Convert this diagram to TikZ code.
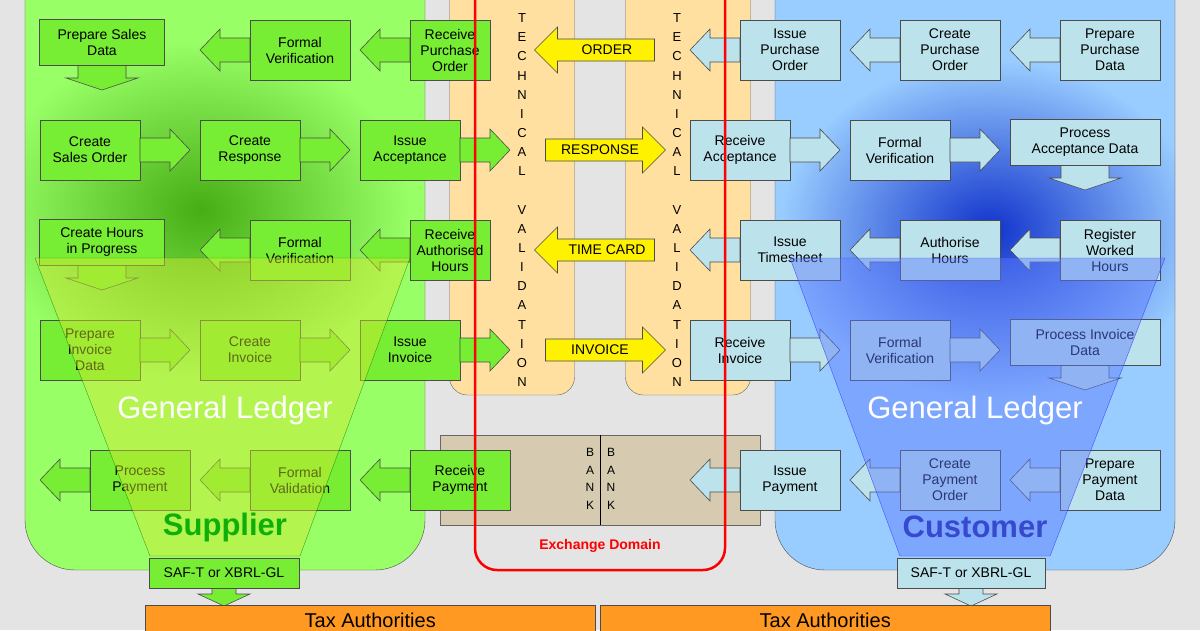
\documentclass[tikz,border=0pt]{standalone}
\usepackage{fontspec}
\setmainfont{Liberation Sans}
\usetikzlibrary{shapes.arrows,shapes.geometric}
\definecolor{bg}{HTML}{E4E4E4}
\definecolor{lgreen}{HTML}{99FF66}
\definecolor{dgreen}{HTML}{339900}
\definecolor{boxg}{HTML}{77EE33}
\definecolor{lblue}{HTML}{99CCFF}
\definecolor{dblue}{HTML}{1133CC}
\definecolor{boxb}{HTML}{BCE3EC}
\definecolor{tv}{HTML}{FFE0A0}
\definecolor{bank}{HTML}{D6CBB0}
\definecolor{orng}{HTML}{FF9922}
\tikzset{
 x=1pt,y=-1pt,
 box/.style={draw=black!70,line width=0.6pt,minimum width=100pt,minimum height=60pt,align=center,font=\fontsize{14}{16}\selectfont,inner sep=1pt},
 gbox/.style={box,fill=boxg},
 bbox/.style={box,fill=boxb},
 arrline/.style={draw=black!70,line width=0.6pt},
 ya/.style={single arrow,draw=black!70,fill=yellow,line width=0.6pt,minimum height=120pt,minimum width=46pt,single arrow head extend=9pt,font=\fontsize{14}{16}\selectfont,inner sep=3pt},
 lt/.style={font=\fontsize{14}{16}\selectfont,inner sep=0pt},
}
\newcommand\hblk[4]{%
 \pgfmathsetmacro\hd{(#3>#2)?-20:20}%
 \draw[arrline,fill=#1] (#2,#4-12) -- (#3+\hd,#4-12) -- (#3+\hd,#4-21) -- (#3,#4) -- (#3+\hd,#4+21) -- (#3+\hd,#4+12) -- (#2,#4+12) -- cycle;}
\newcommand\vblk[6]{%
 \draw[arrline,fill=#1] (#2-#5,#3) -- (#2+#5,#3) -- (#2+#5,#4-12) -- (#2+#6,#4-12) -- (#2,#4) -- (#2-#6,#4-12) -- (#2-#5,#4-12) -- cycle;}
\begin{document}
\begin{tikzpicture}
\useasboundingbox (0,0) rectangle (1200,630);
\fill[bg] (0,0) rectangle (1200,630);
\begin{scope}
\clip[rounded corners=50pt] (25,-60) rectangle (425,570);
\fill[lgreen] (0,-60) rectangle (450,600);
\shade[inner color=dgreen!80!lgreen,outer color=lgreen] (200,210) ellipse (210pt and 170pt);
\end{scope}
\begin{scope}
\clip[rounded corners=50pt] (775,-60) rectangle (1175,570);
\fill[lblue] (750,-60) rectangle (1200,600);
\shade[inner color=dblue,outer color=lblue] (990,230) ellipse (210pt and 170pt);
\end{scope}
\draw[black!70,rounded corners=50pt] (25,-60) rectangle (425,570);
\draw[black!70,rounded corners=50pt] (775,-60) rectangle (1175,570);
\node[draw=black!60,fill=tv,rounded corners=18pt,minimum width=125pt,minimum height=430pt] (tvl) at (512,180) {};
\node[draw=black!60,fill=tv,rounded corners=18pt,minimum width=125pt,minimum height=430pt] (tvr) at (688,180) {};
\node[draw=black!60,fill=bank,minimum width=320pt,minimum height=90pt] (bank) at (600,480) {};
\draw[black] (bank.north) -- (bank.south);
\foreach \l [count=\i] in {B,A,N,K}{
 \node[lt,font=\fontsize{12}{12}\selectfont] at (590,435+17.5*\i) {\l};
 \node[lt,font=\fontsize{12}{12}\selectfont] at (611,435+17.5*\i) {\l};}
% supplier
\vblk{boxg}{102}{60}{90}{24}{36}
\node[gbox,minimum width=125pt,minimum height=46pt] (s11) at (102,42) {Prepare Sales\\Data};
\hblk{boxg}{250}{200}{50}
\node[gbox] (s12) at (300,50) {Formal\\Verification};
\hblk{boxg}{410}{360}{50}
\node[gbox,minimum width=80pt] (s13) at (450,50) {Receive\\Purchase\\Order};
\node[gbox] (s21) at (90,150) {Create\\Sales Order};
\hblk{boxg}{140}{190}{150}
\node[gbox] (s22) at (250,150) {Create\\Response};
\hblk{boxg}{300}{350}{150}
\node[gbox] (s23) at (410,150) {Issue\\Acceptance};
\hblk{boxg}{460}{510}{150}
\vblk{boxg}{102}{260}{290}{24}{36}
\node[gbox,minimum width=125pt,minimum height=46pt] (s31) at (102,242) {Create Hours\\in Progress};
\hblk{boxg}{250}{200}{250}
\node[gbox] (s32) at (300,250) {Formal\\Verification};
\hblk{boxg}{410}{360}{250}
\node[gbox,minimum width=80pt] (s33) at (450,250) {Receive\\Authorised\\Hours};
\node[gbox] (s41) at (90,350) {Prepare\\Invoice\\Data};
\hblk{boxg}{140}{190}{350}
\node[gbox] (s42) at (250,350) {Create\\Invoice};
\hblk{boxg}{300}{350}{350}
\node[gbox] (s43) at (410,350) {Issue\\Invoice};
\hblk{boxg}{460}{510}{350}
\hblk{boxg}{90}{40}{480}
\node[gbox] (s51) at (140,480) {Process\\Payment};
\hblk{boxg}{250}{200}{480}
\node[gbox] (s52) at (300,480) {Formal\\Validation};
\hblk{boxg}{410}{360}{480}
\node[gbox] (s53) at (460,480) {Receive\\Payment};
% customer
\hblk{boxb}{740}{690}{50}
\node[bbox] (c11) at (790,50) {Issue\\Purchase\\Order};
\hblk{boxb}{900}{850}{50}
\node[bbox] (c12) at (950,50) {Create\\Purchase\\Order};
\hblk{boxb}{1060}{1010}{50}
\node[bbox] (c13) at (1110,50) {Prepare\\Purchase\\Data};
\node[bbox] (c21) at (740,150) {Receive\\Acceptance};
\hblk{boxb}{790}{840}{150}
\node[bbox] (c22) at (900,150) {Formal\\Verification};
\hblk{boxb}{950}{1000}{150}
\vblk{boxb}{1085}{160}{190}{24}{36}
\node[bbox,minimum width=150pt,minimum height=46pt] (c23) at (1085,142) {Process\\Acceptance Data};
\hblk{boxb}{740}{690}{250}
\node[bbox] (c31) at (790,250) {Issue\\Timesheet};
\hblk{boxb}{900}{850}{250}
\node[bbox] (c32) at (950,250) {Authorise\\Hours};
\hblk{boxb}{1060}{1010}{250}
\node[bbox] (c33) at (1110,250) {Register\\Worked\\Hours};
\node[bbox] (c41) at (740,350) {Receive\\Invoice};
\hblk{boxb}{790}{840}{350}
\node[bbox] (c42) at (900,350) {Formal\\Verification};
\hblk{boxb}{950}{1000}{350}
\vblk{boxb}{1085}{360}{390}{24}{36}
\node[bbox,minimum width=150pt,minimum height=46pt] (c43) at (1085,342) {Process Invoice\\Data};
\hblk{boxb}{740}{690}{480}
\node[bbox] (c51) at (790,480) {Issue\\Payment};
\hblk{boxb}{900}{850}{480}
\node[bbox] (c52) at (950,480) {Create\\Payment\\Order};
\hblk{boxb}{1060}{1010}{480}
\node[bbox] (c53) at (1110,480) {Prepare\\Payment\\Data};
% middle arrows
\node[ya,shape border rotate=180] (order) at (600,50) {\hspace{14pt}ORDER};
\node[ya] (resp) at (600,150) {RESPONSE\hspace{10pt}};
\node[ya,shape border rotate=180] (tc) at (600,250) {\hspace{14pt}TIME CARD};
\node[ya] (inv) at (600,350) {INVOICE\hspace{10pt}};
\foreach \l [count=\i] in {T,E,C,H,N,I,C,A,L,{},V,A,L,I,D,A,T,I,O,N}{
 \node[lt,font=\fontsize{13}{13}\selectfont] at (522,-1+19.15*\i) {\l};
 \node[lt,font=\fontsize{13}{13}\selectfont] at (677,-1+19.15*\i) {\l};}
\draw[red,line width=2.5pt,rounded corners=22pt] (475,-40) rectangle (725,570);
\node[font=\bfseries\fontsize{14}{16}\selectfont,text=red] (ex) at (600,546) {Exchange Domain};
% funnels
\fill[yellow!60!lgreen,opacity=0.45] (35,258) -- (410,258) -- (300,556) -- (150,556) -- cycle;
\draw[green!50!black,opacity=0.7] (35,258) -- (410,258) -- (300,556) -- (150,556) -- cycle;
\fill[blue!40!lblue,opacity=0.45] (790,258) -- (1165,258) -- (1050,556) -- (900,556) -- cycle;
\draw[blue!80,opacity=0.8] (790,258) -- (1165,258) -- (1050,556) -- (900,556) -- cycle;
\node[text=white,font=\fontsize{31}{33}\selectfont] (gl1) at (225,410) {General Ledger};
\node[text=white,font=\fontsize{31}{33}\selectfont] (gl2) at (975,410) {General Ledger};
\node[text=green!65!black!90!lgreen,font=\bfseries\fontsize{31}{33}\selectfont] (sup) at (225,527) {Supplier};
\node[text=blue!55!lblue!80!black,font=\bfseries\fontsize{31}{33}\selectfont] (cus) at (975,527) {Customer};
% bottom
\vblk{boxg}{224}{586}{606}{12}{26}
\vblk{boxb}{971}{586}{606}{12}{26}
\node[gbox,minimum width=150pt,minimum height=30pt] (saf1) at (224,573) {SAF-T or XBRL-GL};
\node[bbox,minimum width=148pt,minimum height=30pt] (saf2) at (971,573) {SAF-T or XBRL-GL};
\node[draw=black!70,fill=orng,minimum width=450pt,minimum height=40pt,anchor=north west] (tax1) at (145,605) {};
\node[draw=black!70,fill=orng,minimum width=450pt,minimum height=40pt,anchor=north west] (tax2) at (600,605) {};
\node[lt,font=\fontsize{20}{22}\selectfont,anchor=north] at (tax1.north) [yshift=-8pt] {Tax Authorities};
\node[lt,font=\fontsize{20}{22}\selectfont,anchor=north] at (tax2.north) [yshift=-8pt] {Tax Authorities};
\end{tikzpicture}
\end{document}
